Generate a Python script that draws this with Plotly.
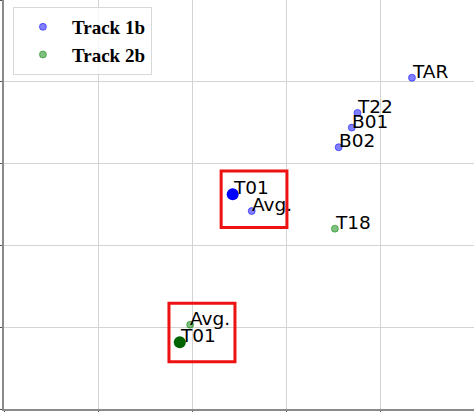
import plotly.graph_objects as go

# Track 1b points
t1_labels = ["TAR", "T22", "B01", "B02", "Avg."]
t1_x = [4.34, 3.76, 3.70, 3.56, 2.635]
t1_y = [4.05, 3.62, 3.44, 3.20, 2.42]
t1_best_label = ["T01"]
t1_best_x = [2.433]
t1_best_y = [2.626]

# Track 2b points
t2_labels = ["T18", "Avg."]
t2_x = [3.52, 1.98]
t2_y = [2.205, 1.03]
t2_best_label = ["T01"]
t2_best_x = [1.87]
t2_best_y = [0.815]

# highlight boxes (x0, x1, y0, y1)
box_x0 = [2.31, 1.755]
box_x1 = [3.01, 2.457]
box_y0 = [2.218, 0.579]
box_y1 = [2.91, 1.293]

BLUE_A = "rgba(0,0,255,0.5)"
GREEN_A = "rgba(0,128,0,0.5)"

fig = go.Figure()
fig.add_trace(go.Scatter(x=t1_x, y=t1_y, mode="markers", name="Track 1b",
                         marker=dict(size=7, color=BLUE_A, line=dict(width=1, color=BLUE_A))))
fig.add_trace(go.Scatter(x=t2_x, y=t2_y, mode="markers", name="Track 2b",
                         marker=dict(size=7, color=GREEN_A, line=dict(width=1, color=GREEN_A))))
fig.add_trace(go.Scatter(x=t1_best_x, y=t1_best_y, mode="markers", showlegend=False,
                         marker=dict(size=12, color="blue")))
fig.add_trace(go.Scatter(x=t2_best_x, y=t2_best_y, mode="markers", showlegend=False,
                         marker=dict(size=12, color="darkgreen")))

labels = t1_labels + t1_best_label + t2_labels + t2_best_label
xs = t1_x + t1_best_x + t2_x + t2_best_x
ys = t1_y + t1_best_y + t2_y + t2_best_y
for lab, x, y in zip(labels, xs, ys):
    fig.add_annotation(x=x, y=y, text=lab, showarrow=False, xanchor="left", yanchor="bottom",
                       xshift=-2, yshift=-6,
                       font=dict(family="DejaVu Sans", size=18.5, color="black"))

for x0, x1, y0, y1 in zip(box_x0, box_x1, box_y0, box_y1):
    fig.add_shape(type="rect", x0=x0, x1=x1, y0=y0, y1=y1,
                  line=dict(color="#ee1111", width=3))

axis_common = dict(showgrid=True, gridcolor="#d3d3d3", gridwidth=1, zeroline=False,
                   showline=True, linecolor="#8a8a8a", linewidth=1.5,
                   ticks="outside", ticklen=4, tickcolor="#555", showticklabels=False,
                   dtick=1, tick0=0, automargin=False)
fig.update_xaxes(range=[0, 5], **axis_common)
fig.update_yaxes(range=[0, 5], **axis_common)

fig.update_layout(
    width=474, height=412,
    margin=dict(l=4, r=0, t=0, b=3),
    plot_bgcolor="white", paper_bgcolor="white",
    legend=dict(x=0.019, y=0.983, xanchor="left", yanchor="top",
                bgcolor="rgba(255,255,255,0.8)", bordercolor="#d8d8d8", borderwidth=1,
                itemwidth=48, tracegroupgap=0,
                font=dict(family="Liberation Serif", size=19, color="black", weight="bold")),
)

fig.write_html("out.html", config={"displayModeBar": False},
               post_script="document.body.style.margin='0';document.body.style.overflow='hidden';")
